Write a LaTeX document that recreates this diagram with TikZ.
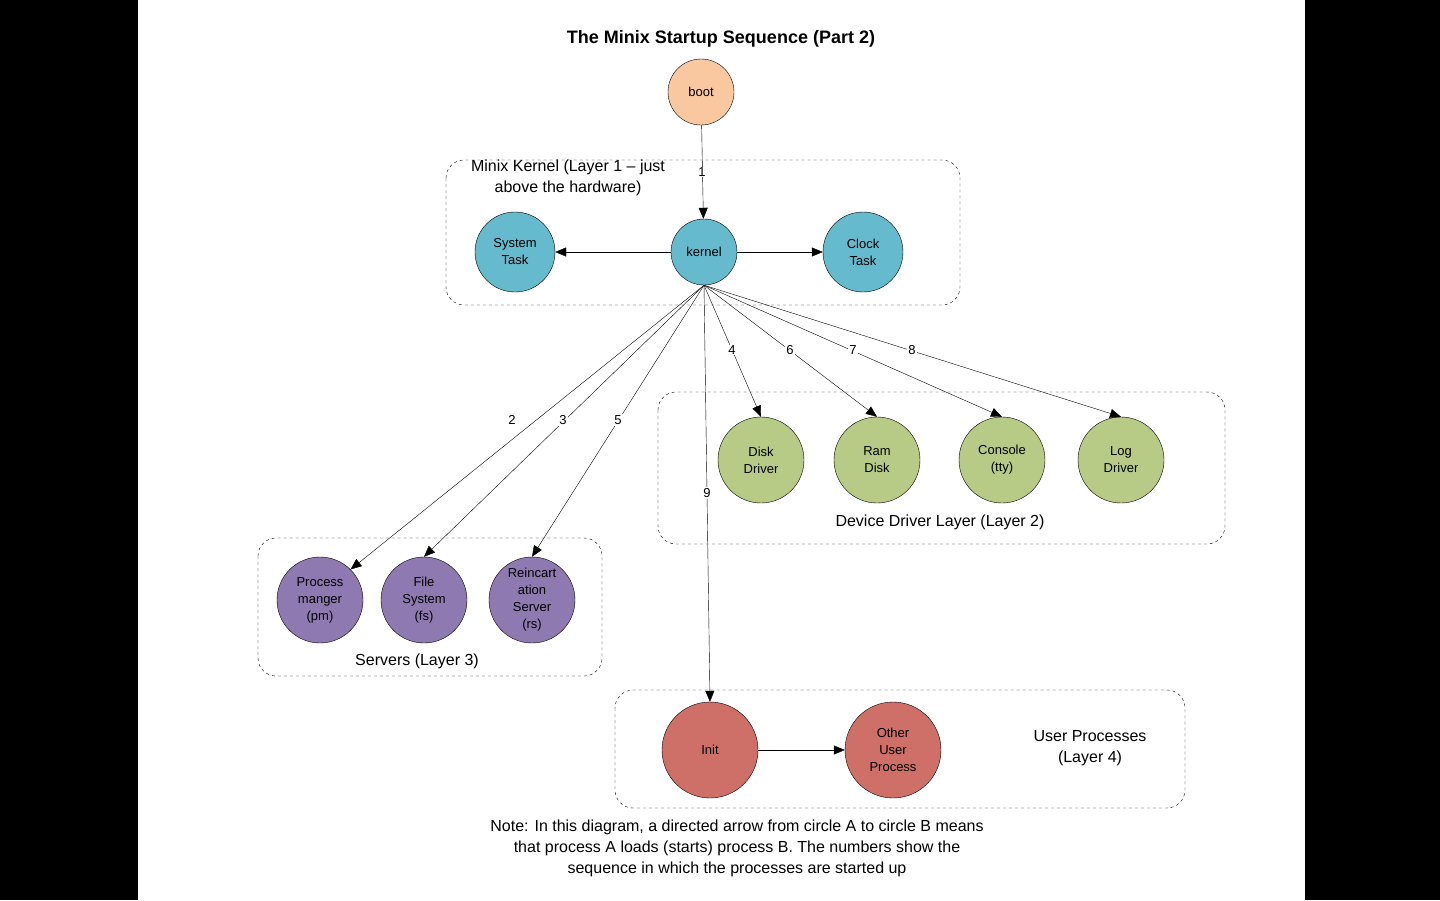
\documentclass[tikz,border=0pt]{standalone}
\usepackage{fontspec}
\setmainfont{Liberation Sans}
\usetikzlibrary{arrows.meta,positioning}

\definecolor{bootcol}{RGB}{250,200,160}
\definecolor{kerncol}{RGB}{102,186,206}
\definecolor{drvcol}{RGB}{183,202,134}
\definecolor{srvcol}{RGB}{142,122,176}
\definecolor{usrcol}{RGB}{206,112,104}

\tikzset{
	proc/.style={circle, draw, minimum size=#1, inner sep=0pt, align=center, font=\fontsize{13}{17}\selectfont},
	layer/.style={draw, dashed, rounded corners=18pt},
	load/.style={-{Triangle[length=11pt,width=9pt]}},
	num/.style={fill=white, inner sep=1pt, font=\fontsize{13}{15}\selectfont},
	boxtext/.style={align=center, font=\fontsize{16}{21}\selectfont}
}

\begin{document}
\begin{tikzpicture}[x=1pt,y=-1pt]
		\fill[black] (0,0) rectangle (1440,900);
		\fill[white] (138,0) rectangle (1305,900);
		\useasboundingbox (0,0) rectangle (1440,900);
		
		\node[font=\fontsize{18}{22}\selectfont\bfseries] (title) at (721,39) {The Minix Startup Sequence (Part 2)};
		
		% layers
		\draw[layer] (446,160) rectangle (960,305);
		\draw[layer] (658,392) rectangle (1225,544);
		\draw[layer] (258,538) rectangle (602,676);
		\draw[layer] (615,690) rectangle (1185,808);
		\node[boxtext] (l1) at (568,178) {Minix Kernel (Layer 1 -- just\\above the hardware)};
		\node[boxtext] (l2) at (940,522) {Device Driver Layer (Layer 2)};
		\node[boxtext] (l3) at (417,661) {Servers (Layer 3)};
		\node[boxtext] (l4) at (1090,748) {User Processes\\(Layer 4)};
		
		% processes
		\node[proc=66pt, fill=bootcol] (boot) at (701,92) {boot};
		\node[proc=66pt, fill=kerncol] (kernel) at (704,252) {kernel};
		\node[proc=80pt, fill=kerncol] (systask) at (515,252) {System\\Task};
		\node[proc=80pt, fill=kerncol] (clock) at (863,252) {Clock\\Task};
		
		\node[proc=86pt, fill=drvcol] (disk) at (761,460) {Disk\\Driver};
		\node[proc=86pt, fill=drvcol] (ram) at (877,460) {Ram\\Disk};
		\node[proc=86pt, fill=drvcol] (tty) at (1002,460) {Console\\(tty)};
		\node[proc=86pt, fill=drvcol] (log) at (1121,460) {Log\\Driver};
		
		\node[proc=86pt, fill=srvcol] (pm) at (320,600) {Process\\manger\\(pm)};
		\node[proc=86pt, fill=srvcol] (fs) at (424,600) {File\\System\\(fs)};
		\node[proc=86pt, fill=srvcol] (rs) at (532,600) {Reincart\\ation\\Server\\(rs)};
		
		\node[proc=96pt, fill=usrcol] (init) at (710,750) {Init};
		\node[proc=96pt, fill=usrcol] (other) at (893,750) {Other\\User\\Process};
		
		% loads
		\draw[load] (boot) -- (kernel);
		\draw[load] (kernel) -- (systask);
		\draw[load] (kernel) -- (clock);
		\foreach \t in {disk,ram,tty,log}
			\draw[load] (kernel.south) -- (\t.north);
		\draw[load] (kernel.south) -- (pm.north east);
		\draw[load] (kernel.south) -- (fs.north);
		\draw[load] (kernel.south) -- (rs.north);
		\draw[load] (kernel.south) -- (init.north);
		\draw[load] (init) -- (other);
		
		% sequence numbers
		\node[num] (n1) at (702,172) {1};
		\node[num] (n2) at (512,420) {2};
		\node[num] (n3) at (563,420) {3};
		\node[num] (n5) at (618,420) {5};
		\node[num] (n4) at (732,350) {4};
		\node[num] (n6) at (790,350) {6};
		\node[num] (n7) at (853,350) {7};
		\node[num] (n8) at (912,350) {8};
		\node[num] (n9) at (707,493) {9};
		
		\node[boxtext] (note) at (737,848) {Note: In this diagram, a directed arrow from circle A to circle B means\\that process A loads (starts) process B. The numbers show the\\sequence in which the processes are started up};
\end{tikzpicture}
\end{document}
